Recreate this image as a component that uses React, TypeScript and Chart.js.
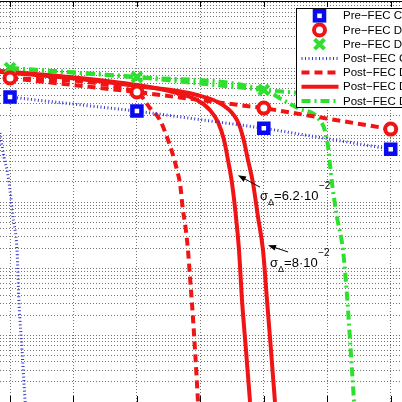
import { useEffect, useRef } from "react";
import { Chart, registerables } from "chart.js";

Chart.register(...registerables);

// ---------------- data ----------------
const X_MIN = 11.842;
const X_MAX = 18.178;
const X_TICKS = [12, 13, 14, 15, 16, 17, 18];
const Y_MIN = 1e-6;
const Y_MAX = 1;
const Y_DECADES = [-6, -5, -4, -3, -2, -1];
const Y_MANTISSAS = [1, 2, 3, 4, 5, 6, 7, 8, 9];

const PRE_X = [12, 14, 16, 18];
const PRE_C_BER = [0.0375, 0.0231, 0.0128, 0.0062];
const PRE_D1_BER = [0.0723, 0.0446, 0.0256, 0.0124];
const PRE_D2_BER = [0.102, 0.0748, 0.048, 0.033];

const POST_C_X = [11.842, 11.905, 11.953, 12.0, 12.047, 12.11, 12.142, 12.189, 12.238];
const POST_C_BER = [0.0108, 0.0047, 0.003, 0.0015, 0.00059, 0.00019, 0.00003, 0.000006, 0.000001];

const POST_D1_X = [12, 14, 14.206, 14.364, 14.474, 14.569, 14.632, 14.679, 14.726, 14.758, 14.805, 14.837, 14.868, 14.916, 14.963];
const POST_D1_BER = [0.0723, 0.0446, 0.0256, 0.0169, 0.0094, 0.00505, 0.003, 0.00191, 0.00075, 0.00048, 0.00019, 0.000074, 0.00003, 0.000006, 0.000001];

const POST_SA_X = [11.842, 12.946, 14.0, 14.569, 14.947, 15.152, 15.278, 15.373, 15.436, 15.499, 15.562, 15.609, 15.656, 15.719, 15.783];
const POST_SA_BER = [0.092, 0.0748, 0.0568, 0.0446, 0.0338, 0.0239, 0.0158, 0.0085, 0.00425, 0.00191, 0.00059, 0.00019, 0.000034, 0.000006, 0.000001];

const POST_SB_X = [11.842, 12.946, 14.0, 14.947, 15.357, 15.578, 15.672, 15.751, 15.83, 15.909, 15.987, 16.05, 16.113, 16.176];
const POST_SB_BER = [0.0889, 0.0723, 0.0548, 0.0402, 0.0284, 0.0169, 0.0094, 0.00425, 0.00191, 0.00059, 0.00019, 0.000034, 0.000006, 0.000001];

const POST_D2_X = [12, 14, 16.0, 16.303, 16.571, 16.839, 16.997, 17.075, 17.154, 17.248, 17.311, 17.359, 17.422];
const POST_D2_BER = [0.102, 0.0748, 0.048, 0.0338, 0.0247, 0.0188, 0.0085, 0.00191, 0.00059, 0.00019, 0.00004, 0.0000084, 0.000001];

const LEGEND_LABELS = [
  "Pre\u2212FEC Coherent",
  "Pre\u2212FEC Differential",
  "Pre\u2212FEC Differential, ideal",
  "Post\u2212FEC Coherent",
  "Post\u2212FEC Differential",
  "Post\u2212FEC Differential, PN",
  "Post\u2212FEC Differential, ideal",
];
const LEGEND_DATASETS = [0, 1, 2, 3, 4, 5, 7];

const ANNOT_MAIN = ["=6.2\u00b710", "=8\u00b710"];
const ANNOT_EXP = ["\u22122", "\u22122"];
const ANNOT_TEXT_X = [15.94, 16.098];
const ANNOT_TEXT_Y = [1.06e-3, 1.05e-4];
const ANNOT_TAIL_X = [15.94, 16.382];
const ANNOT_TAIL_Y = [1.67e-3, 1.78e-4];
const ANNOT_TIP_X = [15.593, 16.066];
const ANNOT_TIP_Y = [2.52e-3, 2.25e-4];

// ---------------- styles ----------------
const BLUE = "#0a0af0";
const BLUE_LINE = "#3434cc";
const RED = "#f01414";
const GREEN = "#2ee02e";
const GRID = "rgba(0,0,0,0.55)";
const FONT = '"Liberation Sans", Arial, Helvetica, sans-serif';

const pts = (xs: number[], ys: number[]) => xs.map((x, i) => ({ x, y: ys[i] }));

function drawMarker(ctx: CanvasRenderingContext2D, ds: any, x: number, y: number) {
  const r = ds.pointRadius;
  ctx.save();
  ctx.lineWidth = ds.pointBorderWidth;
  ctx.strokeStyle = ds.pointBorderColor;
  ctx.fillStyle = ds.pointBackgroundColor;
  ctx.setLineDash([]);
  if (ds.pointStyle === "rect") {
    const s = r * Math.SQRT2;
    ctx.fillRect(x - s / 2, y - s / 2, s, s);
    ctx.strokeRect(x - s / 2, y - s / 2, s, s);
  } else if (ds.pointStyle === "circle") {
    ctx.beginPath();
    ctx.arc(x, y, r, 0, Math.PI * 2);
    ctx.fill();
    ctx.stroke();
  } else {
    const o = r * Math.SQRT1_2;
    ctx.beginPath();
    ctx.moveTo(x - o, y - o);
    ctx.lineTo(x + o, y + o);
    ctx.moveTo(x - o, y + o);
    ctx.lineTo(x + o, y - o);
    ctx.stroke();
  }
  ctx.restore();
}

const framePlugin = {
  id: "frame",
  afterDatasetsDraw(chart: any) {
    const { ctx, scales } = chart;
    ctx.save();
    for (let i = 0; i < ANNOT_MAIN.length; i++) {
      const x1 = scales.x.getPixelForValue(ANNOT_TAIL_X[i]);
      const y1 = scales.y.getPixelForValue(ANNOT_TAIL_Y[i]);
      const x2 = scales.x.getPixelForValue(ANNOT_TIP_X[i]);
      const y2 = scales.y.getPixelForValue(ANNOT_TIP_Y[i]);
      const ang = Math.atan2(y2 - y1, x2 - x1);
      const c = Math.cos(ang), s = Math.sin(ang);
      const hl = 8, hw = 3;
      ctx.strokeStyle = "#000";
      ctx.fillStyle = "#000";
      ctx.lineWidth = 1;
      ctx.setLineDash([]);
      ctx.beginPath();
      ctx.moveTo(x1, y1);
      ctx.lineTo(x2 - c * hl * 0.8, y2 - s * hl * 0.8);
      ctx.stroke();
      ctx.beginPath();
      ctx.moveTo(x2, y2);
      ctx.lineTo(x2 - c * hl + s * hw, y2 - s * hl - c * hw);
      ctx.lineTo(x2 - c * hl - s * hw, y2 - s * hl + c * hw);
      ctx.closePath();
      ctx.fill();

      const tx = scales.x.getPixelForValue(ANNOT_TEXT_X[i]);
      const ty = scales.y.getPixelForValue(ANNOT_TEXT_Y[i]);
      ctx.textAlign = "left";
      ctx.textBaseline = "alphabetic";
      ctx.font = `13px ${FONT}`;
      ctx.fillText("\u03c3", tx, ty);
      let cx = tx + ctx.measureText("\u03c3").width;
      ctx.font = `9px ${FONT}`;
      ctx.fillText("\u0394", cx, ty + 5);
      cx += ctx.measureText("\u0394").width;
      ctx.font = `13px ${FONT}`;
      ctx.fillText(ANNOT_MAIN[i], cx, ty);
      cx += ctx.measureText(ANNOT_MAIN[i]).width;
      ctx.font = `10px ${FONT}`;
      ctx.fillText(ANNOT_EXP[i], cx + 0.5, ty - 11);
    }
    ctx.restore();
  },
  afterDraw(chart: any) {
    const { ctx, chartArea, scales } = chart;
    ctx.save();
    ctx.setLineDash([]);
    ctx.strokeStyle = "#000";
    ctx.lineWidth = 1;
    ctx.beginPath();
    ctx.moveTo(chartArea.left, chartArea.top - 0.5);
    ctx.lineTo(chartArea.right, chartArea.top - 0.5);
    ctx.stroke();
    for (const v of X_TICKS) {
      const px = Math.round(scales.x.getPixelForValue(v)) + 0.5;
      ctx.beginPath();
      ctx.moveTo(px, chartArea.top - 1);
      ctx.lineTo(px, chartArea.top + 5);
      ctx.moveTo(px, chartArea.bottom);
      ctx.lineTo(px, chartArea.bottom - 6);
      ctx.stroke();
    }
    const left = chartArea.right - 106 + 0.5;
    const top = chartArea.top + 6.5;
    const h = 99;
    ctx.fillStyle = "#fff";
    ctx.fillRect(left, top, 200, h);
    ctx.strokeStyle = "#000";
    ctx.lineWidth = 1;
    ctx.strokeRect(left, top, 200, h);
    const dsets = chart.data.datasets;
    for (let i = 0; i < LEGEND_LABELS.length; i++) {
      const ds: any = dsets[LEGEND_DATASETS[i]];
      const ry = top + 7.3 + i * 14.2;
      if (i < 3) {
        drawMarker(ctx, ds, left + 23, ry);
      } else {
        ctx.save();
        ctx.strokeStyle = ds.borderColor;
        ctx.lineWidth = ds.borderWidth;
        ctx.setLineDash(ds.borderDash || []);
        ctx.beginPath();
        ctx.moveTo(left + 5, ry);
        ctx.lineTo(left + 42, ry);
        ctx.stroke();
        ctx.restore();
      }
      ctx.fillStyle = "#000";
      ctx.font = `11.5px ${FONT}`;
      ctx.textAlign = "left";
      ctx.textBaseline = "middle";
      ctx.fillText(LEGEND_LABELS[i], left + 46.5, ry + 0.5);
    }
    ctx.restore();
  },
};

export default function App() {
  const ref = useRef<HTMLCanvasElement | null>(null);
  useEffect(() => {
    const canvas = ref.current;
    if (!canvas) return;
    const yGrid: number[] = [];
    for (const e of Y_DECADES) for (const m of Y_MANTISSAS) yGrid.push(m * Math.pow(10, e));
    yGrid.push(Y_MAX);

    const lineBase = { pointRadius: 0, fill: false, cubicInterpolationMode: "monotone" as const };
    const chart = new Chart(canvas, {
      type: "line",
      data: {
        datasets: [
          {
            label: LEGEND_LABELS[0],
            data: pts(PRE_X, PRE_C_BER),
            borderColor: BLUE_LINE,
            borderWidth: 3,
            borderDash: [1, 2.5],
            pointStyle: "rect",
            pointRadius: 6.4,
            pointBorderWidth: 4.5,
            pointBorderColor: BLUE,
            pointBackgroundColor: "#ffffff",
          },
          {
            label: LEGEND_LABELS[1],
            data: pts(PRE_X, PRE_D1_BER),
            borderColor: RED,
            borderWidth: 4,
            borderDash: [8, 5],
            pointStyle: "circle",
            pointRadius: 5.5,
            pointBorderWidth: 4,
            pointBorderColor: RED,
            pointBackgroundColor: "#ffffff",
          },
          {
            label: LEGEND_LABELS[2],
            data: pts(PRE_X, PRE_D2_BER),
            borderColor: GREEN,
            borderWidth: 4,
            borderDash: [9, 4, 2, 4],
            pointStyle: "crossRot",
            pointRadius: 7,
            pointBorderWidth: 4,
            pointBorderColor: GREEN,
            pointBackgroundColor: GREEN,
          },
          {
            ...lineBase,
            label: LEGEND_LABELS[3],
            data: pts(POST_C_X, POST_C_BER),
            borderColor: BLUE_LINE,
            borderWidth: 3,
            borderDash: [1, 2.5],
          },
          {
            ...lineBase,
            label: LEGEND_LABELS[4],
            data: pts(POST_D1_X, POST_D1_BER),
            borderColor: RED,
            borderWidth: 4,
            borderDash: [8, 5],
          },
          {
            ...lineBase,
            label: LEGEND_LABELS[5],
            data: pts(POST_SA_X, POST_SA_BER),
            borderColor: RED,
            borderWidth: 4,
          },
          {
            ...lineBase,
            label: LEGEND_LABELS[5] + " (2)",
            data: pts(POST_SB_X, POST_SB_BER),
            borderColor: RED,
            borderWidth: 4,
          },
          {
            ...lineBase,
            label: LEGEND_LABELS[6],
            data: pts(POST_D2_X, POST_D2_BER),
            borderColor: GREEN,
            borderWidth: 4,
            borderDash: [9, 4, 2, 4],
          },
        ] as any,
      },
      options: {
        animation: false,
        responsive: false,
        devicePixelRatio: 1,
        events: [],
        layout: { autoPadding: false, padding: { top: 2, left: 0, right: 0, bottom: 0 } },
        plugins: { legend: { display: false }, tooltip: { enabled: false } },
        scales: {
          x: {
            type: "linear",
            min: X_MIN,
            max: X_MAX,
            ticks: { display: false, includeBounds: false },
            afterBuildTicks: (axis: any) => {
              axis.ticks = X_TICKS.map((v) => ({ value: v }));
            },
            grid: { display: true, color: GRID, lineWidth: 1, drawTicks: false },
            border: { display: false, dash: [1, 2] },
          },
          y: {
            type: "logarithmic",
            min: Y_MIN,
            max: Y_MAX,
            ticks: { display: false },
            afterBuildTicks: (axis: any) => {
              axis.ticks = yGrid.map((v) => ({ value: v }));
            },
            grid: { display: true, color: GRID, lineWidth: 1, drawTicks: false },
            border: { display: false, dash: [1, 2] },
          },
        },
      } as any,
      plugins: [framePlugin],
    });
    return () => chart.destroy();
  }, []);

  return (
    <div style={{ position: "fixed", left: 0, top: 0, width: 402, height: 402, background: "#fff" }}>
      <canvas ref={ref} width={402} height={402} style={{ display: "block", width: 402, height: 402 }} />
    </div>
  );
}
